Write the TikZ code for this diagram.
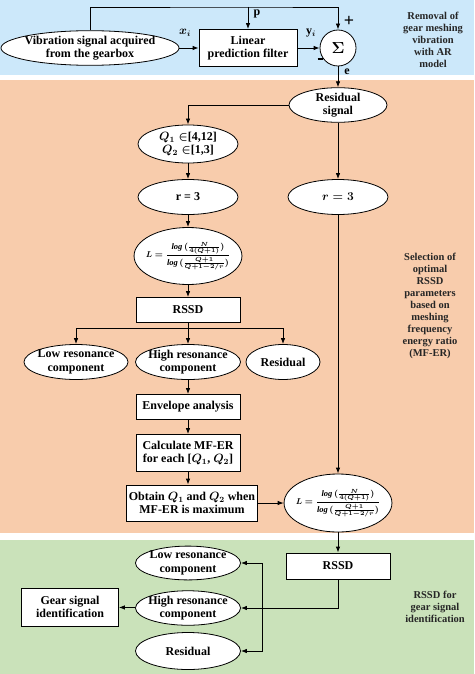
\documentclass[tikz,border=0pt]{standalone}
\usepackage{fix-cm}
\usepackage{amsmath}
\usepackage{fontspec}
\setmainfont{Liberation Serif}
\usetikzlibrary{shapes.geometric,arrows.meta}

\definecolor{bandblue}{RGB}{204,232,250}
\definecolor{bandorange}{RGB}{248,204,172}
\definecolor{bandgreen}{RGB}{202,226,186}

\newcommand{\Lformula}{$L=\dfrac{\mathit{log}\,(\frac{N}{4(Q+1)})}{\mathit{log}\,(\frac{Q+1}{Q+1-2/r})}$}

\begin{document}
\begin{tikzpicture}[x=1pt,y=-1pt,>={Latex[length=6pt,width=4.5pt]},line width=0.8pt]
    \tikzstyle{every node}=[font=\bfseries\boldmath\fontsize{12}{13.5}\selectfont, align=center]
    \tikzstyle{oval}=[draw, fill=white, ellipse, inner xsep=-4pt, inner ysep=0pt]
    \tikzstyle{block}=[draw, fill=white, rectangle, inner sep=2pt]
    \tikzstyle{formula}=[font=\bfseries\boldmath\fontsize{8.5}{9}\selectfont]
    \tikzstyle{note}=[font=\bfseries\fontsize{10.5}{12}\selectfont, text=black!85]
    \tikzstyle{sign}=[font=\bfseries\fontsize{18}{18}\selectfont]

    \useasboundingbox (0,0) rectangle (474,674);

    % Background bands
    \fill[bandblue] (0,0) rectangle (474,75);
    \fill[bandorange] (0,80) rectangle (474,533);
    \fill[bandgreen] (0,540) rectangle (474,674);

    % Band 1 (AR model)
    \node[oval, minimum width=178pt, minimum height=34pt] (vib) at (90,48) {Vibration signal acquired\\from the gearbox};
    \node[block, minimum width=98pt, minimum height=37pt] (lpf) at (248,48) {Linear\\prediction filter};
    \node[draw, fill=white, circle, minimum size=36pt, inner sep=0pt] (sum) at (338,48) {\fontsize{16}{16}\selectfont$\Sigma$};
    \node[oval, minimum width=98pt, minimum height=31pt] (res) at (338,105) {Residual\\signal};
    \coordinate (ptop) at (248,7);
    \draw[->] (vib) -- (lpf);
    \draw[->] (ptop) -- (lpf);
    \draw[->] (vib.north) |- (ptop) -| (sum.north);
    \draw[->] (lpf) -- (sum);
    \draw[->] (sum) -- (res);
    \node at (185,33) {$x_i$};
    \node at (257,14) {p};
    \node at (311,33) {y$_i$};
    \node at (320,59) {\rule{5pt}{1.8pt}};
    \node[sign] at (349,21) {+};
    \node at (347,72) {e};
    \node[note] (noteA) at (433,40) {Removal of\\gear meshing\\vibration\\with AR\\model};

    % Band 2 (left column)
    \node[oval, minimum width=100pt, minimum height=38pt] (qrange) at (188,144) {$Q_1\in$[4,12]\\$Q_2\in$[1,3]};
    \node[oval, minimum width=100pt, minimum height=35pt] (rleft) at (188,197) {r = 3};
    \node[oval, formula, minimum width=105pt, minimum height=57pt] (lleft) at (188,256) {\Lformula};
    \node[block, minimum width=104pt, minimum height=25pt] (rssdA) at (188,310) {RSSD};
    \coordinate (split) at (188,328);
    \node[oval, minimum width=104pt, minimum height=35pt] (lowA) at (76,362) {Low resonance\\component};
    \node[oval, minimum width=105pt, minimum height=35pt] (highA) at (188,362) {High resonance\\component};
    \node[oval, minimum width=74pt, minimum height=35pt] (residA) at (283,362) {Residual};
    \node[block, minimum width=104pt, minimum height=25pt] (env) at (188,407) {Envelope analysis};
    \node[block, minimum width=104pt, minimum height=37pt] (mfer) at (188,453) {Calculate MF-ER\\for each [$Q_1$, $Q_2$]};
    \node[block, minimum width=129pt, minimum height=36pt] (obtain) at (192,503) {Obtain $Q_1$ and $Q_2$ when\\MF-ER is maximum};
    \draw[->] (res.west) -| (qrange.north);
    \draw[->] (qrange) -- (rleft);
    \draw[->] (rleft) -- (lleft);
    \draw[->] (lleft) -- (rssdA);
    \draw (rssdA) -- (split);
    \draw[->] (split) -| (lowA.north);
    \draw[->] (split) -| (residA.north);
    \draw[->] (split) -- (highA);
    \draw[->] (highA) -- (env);
    \draw[->] (env) -- (mfer);
    \draw[->] (mfer.south) -- (mfer.south |- obtain.north);

    % Band 2 (right column)
    \node[oval, minimum width=100pt, minimum height=35pt] (rright) at (338,197) {$r=3$};
    \node[oval, formula, minimum width=105pt, minimum height=58pt] (lright) at (338,503) {\Lformula};
    \draw[->] (res) -- (rright);
    \draw[->] (rright) -- (lright);
    \draw[->] (obtain) -- (lright);
    \node[note] (noteB) at (430,306) {Selection of\\optimal\\RSSD\\parameters\\based on\\meshing\\frequency\\energy ratio\\(MF-ER)};

    % Band 3 (gear signal)
    \node[block, minimum width=104pt, minimum height=26pt] (rssdB) at (338,566) {RSSD};
    \node[oval, minimum width=105pt, minimum height=33pt] (lowB) at (188,563) {Low resonance\\component};
    \node[oval, minimum width=105pt, minimum height=33pt] (highB) at (188,608) {High resonance\\component};
    \node[oval, minimum width=105pt, minimum height=37pt] (residB) at (188,651) {Residual};
    \node[block, minimum width=97pt, minimum height=38pt] (gear) at (70,607) {Gear signal\\identification};
    \coordinate (fork) at (262,608);
    \draw[->] (lright) -- (rssdB);
    \draw[->] (rssdB.south) |- (highB.east);
    \draw[->] (fork) |- (lowB.east);
    \draw[->] (fork) |- (residB.east);
    \draw[->] (highB) -- (gear);
    \node[note] (noteC) at (435,607) {RSSD for\\gear signal\\identification};

\end{tikzpicture}
\end{document}
